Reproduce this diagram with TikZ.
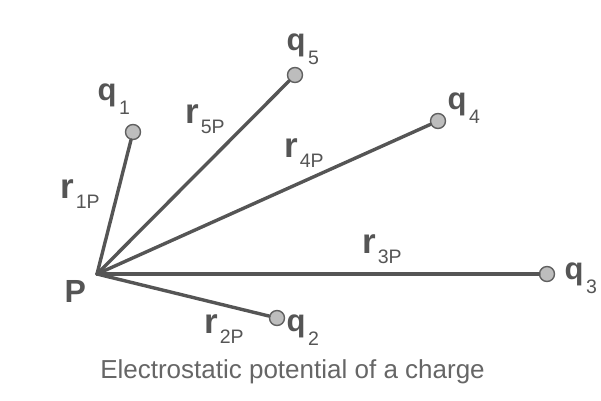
\documentclass[tikz,border=0pt]{standalone}
\usepackage{fontspec}
\setmainfont{Liberation Sans}
\definecolor{ink}{HTML}{555555}
\definecolor{dotfill}{HTML}{BDBDBD}
\definecolor{dotline}{HTML}{606060}
\definecolor{captc}{HTML}{666666}
\newcommand\qlab[1]{{\fontsize{31}{31}\selectfont\bfseries q}\kern2.5pt\raisebox{-14pt}{\fontsize{19.5}{19.5}\selectfont #1}}
\newcommand\rlab[1]{{\fontsize{35}{35}\selectfont\bfseries r}\kern1.5pt\raisebox{-10pt}{\fontsize{19.5}{19.5}\selectfont #1}}
\begin{document}
\begin{tikzpicture}[x=1pt,y=-1pt,
  wire/.style={draw=ink, line width=3.4pt, line cap=round},
  charge/.style={circle, draw=dotline, fill=dotfill, line width=1.4pt, minimum size=15pt, inner sep=0pt},
  lab/.style={anchor=base west, inner sep=0pt, text=ink},
  capt/.style={anchor=base, inner sep=0pt, text=captc, font=\fontsize{26}{26}\selectfont}]
\path[use as bounding box] (0,0) rectangle (601,400);
\coordinate (P) at (97,274);
\node[charge] (q1) at (133,132) {};
\node[charge] (q5) at (295,75) {};
\node[charge] (q4) at (438,121) {};
\node[charge] (q3) at (547,274) {};
\node[charge] (q2) at (277,318) {};
\draw[wire] (P) -- (q1);
\draw[wire] (P) -- (q5);
\draw[wire] (P) -- (q4);
\draw[wire] (P) -- (q3);
\draw[wire] (P) -- (q2);
\node[lab] (lq1) at (97.5,100) {\qlab{1}};
\node[lab] (lq5) at (286.5,50) {\qlab{5}};
\node[lab] (lq4) at (447.5,109) {\qlab{4}};
\node[lab] (lq3) at (564.5,279) {\qlab{3}};
\node[lab] (lq2) at (286.5,331) {\qlab{2}};
\node[lab] (lr1) at (60.5,198) {\rlab{1P}};
\node[lab] (lr5) at (185.5,123) {\rlab{5P}};
\node[lab] (lr4) at (284.5,157) {\rlab{4P}};
\node[lab] (lr3) at (362.5,253) {\rlab{3P}};
\node[lab] (lr2) at (204.5,333) {\rlab{2P}};
\node[lab, font=\fontsize{32}{32}\selectfont\bfseries] (lP) at (64.5,302) {P};
\node[capt] (cap) at (292.5,378) {Electrostatic potential of a charge};
\end{tikzpicture}
\end{document}
